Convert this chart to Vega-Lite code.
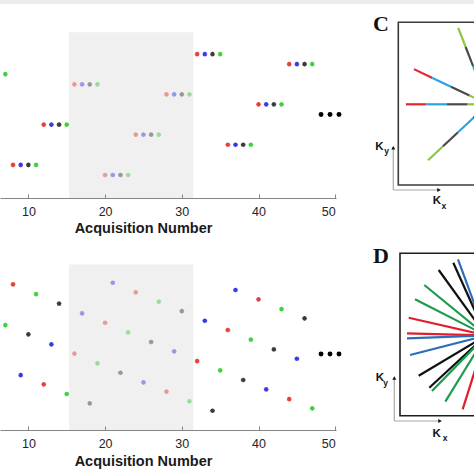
{
  "$schema": "https://vega.github.io/schema/vega-lite/v6.json",
  "padding": {"left": 0, "top": 0, "right": 0, "bottom": 0},
  "background": "white",
  "bounds": "flush",
  "columns": 2,
  "spacing": {"row": 10, "column": 10},
  "config": {"view": {"stroke": null}, "font": "Liberation Sans"},
  "resolve": {"scale": {"color": "independent", "shape": "independent"}},
  "datasets": {
    "ptsA": [
      {"n": 7, "lv": 10, "c": "green"},
      {"n": 8, "lv": 1, "c": "red"}, {"n": 9, "lv": 1, "c": "blue"}, {"n": 10, "lv": 1, "c": "black"}, {"n": 11, "lv": 1, "c": "green"},
      {"n": 12, "lv": 5, "c": "red"}, {"n": 13, "lv": 5, "c": "blue"}, {"n": 14, "lv": 5, "c": "black"}, {"n": 15, "lv": 5, "c": "green"},
      {"n": 16, "lv": 9, "c": "red"}, {"n": 17, "lv": 9, "c": "blue"}, {"n": 18, "lv": 9, "c": "black"}, {"n": 19, "lv": 9, "c": "green"},
      {"n": 20, "lv": 0, "c": "red"}, {"n": 21, "lv": 0, "c": "blue"}, {"n": 22, "lv": 0, "c": "black"}, {"n": 23, "lv": 0, "c": "green"},
      {"n": 24, "lv": 4, "c": "red"}, {"n": 25, "lv": 4, "c": "blue"}, {"n": 26, "lv": 4, "c": "black"}, {"n": 27, "lv": 4, "c": "green"},
      {"n": 28, "lv": 8, "c": "red"}, {"n": 29, "lv": 8, "c": "blue"}, {"n": 30, "lv": 8, "c": "black"}, {"n": 31, "lv": 8, "c": "green"},
      {"n": 32, "lv": 12, "c": "red"}, {"n": 33, "lv": 12, "c": "blue"}, {"n": 34, "lv": 12, "c": "black"}, {"n": 35, "lv": 12, "c": "green"},
      {"n": 36, "lv": 3, "c": "red"}, {"n": 37, "lv": 3, "c": "blue"}, {"n": 38, "lv": 3, "c": "black"}, {"n": 39, "lv": 3, "c": "green"},
      {"n": 40, "lv": 7, "c": "red"}, {"n": 41, "lv": 7, "c": "blue"}, {"n": 42, "lv": 7, "c": "black"}, {"n": 43, "lv": 7, "c": "green"},
      {"n": 44, "lv": 11, "c": "red"}, {"n": 45, "lv": 11, "c": "blue"}, {"n": 46, "lv": 11, "c": "black"}, {"n": 47, "lv": 11, "c": "green"}
    ],
    "ptsB": [
      {"n": 7, "lv": 8.13, "c": "green"},
      {"n": 8, "lv": 12.17, "c": "red"}, {"n": 9, "lv": 3.17, "c": "blue"}, {"n": 10, "lv": 7.21, "c": "black"}, {"n": 11, "lv": 11.21, "c": "green"},
      {"n": 12, "lv": 2.25, "c": "red"}, {"n": 13, "lv": 6.22, "c": "blue"}, {"n": 14, "lv": 10.25, "c": "black"}, {"n": 15, "lv": 1.29, "c": "green"},
      {"n": 16, "lv": 5.29, "c": "red"}, {"n": 17, "lv": 9.3, "c": "blue"}, {"n": 18, "lv": 0.37, "c": "black"}, {"n": 19, "lv": 4.34, "c": "green"},
      {"n": 20, "lv": 8.36, "c": "red"}, {"n": 21, "lv": 12.33, "c": "blue"}, {"n": 22, "lv": 3.4, "c": "black"}, {"n": 23, "lv": 7.41, "c": "green"},
      {"n": 24, "lv": 11.38, "c": "red"}, {"n": 25, "lv": 2.45, "c": "blue"}, {"n": 26, "lv": 6.45, "c": "black"}, {"n": 27, "lv": 10.45, "c": "green"},
      {"n": 28, "lv": 1.52, "c": "red"}, {"n": 29, "lv": 5.53, "c": "blue"}, {"n": 30, "lv": 9.52, "c": "black"}, {"n": 31, "lv": 0.57, "c": "green"},
      {"n": 32, "lv": 4.56, "c": "red"}, {"n": 33, "lv": 8.56, "c": "blue"}, {"n": 34, "lv": -0.37, "c": "black"}, {"n": 35, "lv": 3.64, "c": "green"},
      {"n": 36, "lv": 7.64, "c": "red"}, {"n": 37, "lv": 11.61, "c": "blue"}, {"n": 38, "lv": 2.68, "c": "black"}, {"n": 39, "lv": 6.68, "c": "green"},
      {"n": 40, "lv": 10.68, "c": "red"}, {"n": 41, "lv": 1.76, "c": "blue"}, {"n": 42, "lv": 5.72, "c": "black"}, {"n": 43, "lv": 9.72, "c": "green"},
      {"n": 44, "lv": 0.79, "c": "red"}, {"n": 45, "lv": 4.79, "c": "blue"}, {"n": 46, "lv": 8.8, "c": "black"}, {"n": 47, "lv": -0.13, "c": "green"}
    ],
    "dotsA": [{"n": 48.15, "lv": 6}, {"n": 49.32, "lv": 6}, {"n": 50.49, "lv": 6}],
    "dotsB": [{"n": 48.15, "lv": 5.26}, {"n": 49.32, "lv": 5.26}, {"n": 50.49, "lv": 5.26}],
    "shade": [{"n": 15.3, "n2": 31.5, "lv": -2.28, "lv2": 14.15}],
    "bandA": [{"n": 6.3, "n2": 68.0, "lv": 16.96, "lv2": 17.36}],
    "boxC": [{"x": -4.376, "x2": 4.376, "y": 4.0, "y2": -3.937}],
    "spokesC": [
      {"x": -4, "y": 0, "x2": -3, "y2": 0, "c": "red"},
      {"x": -3, "y": 0, "x2": -2, "y2": 0, "c": "blue"},
      {"x": -2, "y": 0, "x2": -1, "y2": 0, "c": "dark"},
      {"x": -1, "y": 0, "x2": 0, "y2": 0, "c": "green"},
      {"x": -3.613, "y": 1.716, "x2": -2.71, "y2": 1.287, "c": "red"},
      {"x": -2.71, "y": 1.287, "x2": -1.807, "y2": 0.858, "c": "blue"},
      {"x": -1.807, "y": 0.858, "x2": -0.903, "y2": 0.429, "c": "dark"},
      {"x": -0.903, "y": 0.429, "x2": 0, "y2": 0, "c": "green"},
      {"x": -1.453, "y": 3.727, "x2": -1.09, "y2": 2.795, "c": "green"},
      {"x": -1.09, "y": 2.795, "x2": -0.727, "y2": 1.863, "c": "dark"},
      {"x": -0.727, "y": 1.863, "x2": -0.363, "y2": 0.932, "c": "blue"},
      {"x": -0.363, "y": 0.932, "x2": 0, "y2": 0, "c": "red"},
      {"x": -2.926, "y": -2.728, "x2": -2.194, "y2": -2.046, "c": "green"},
      {"x": -2.194, "y": -2.046, "x2": -1.463, "y2": -1.364, "c": "dark"},
      {"x": -1.463, "y": -1.364, "x2": -0.731, "y2": -0.682, "c": "blue"},
      {"x": -0.731, "y": -0.682, "x2": 0, "y2": 0, "c": "red"}
    ],
    "axC": [{"x": -4.62, "y": -4.18, "x2": -4.62, "y2": -2.1}, {"x": -4.62, "y": -4.18, "x2": -2.37, "y2": -4.18}],
    "headsC": [{"x": -4.62, "y": -2.12, "s": "triangle-up"}, {"x": -2.39, "y": -4.18, "s": "triangle-right"}],
    "lblC": [{"x": -5.22, "y": 3.917, "t": "C"}],
    "kC": [{"x": -5.293, "y": -2.083, "t": "K"}, {"x": -2.488, "y": -4.717, "t": "K"}],
    "subC": [{"x": -4.951, "y": -2.278, "t": "y"}, {"x": -2.156, "y": -4.937, "t": "x"}],
    "bandC": [{"x": -6.927, "x2": -0.683, "y": 4.893, "y2": 5.088}],
    "boxD": [{"x": -4.195, "x2": 4.2, "y": 4.01, "y2": -3.912}],
    "spokesD": [
      {"x": -1.366, "y": 3.717, "x2": 0, "y2": 0, "c": "blue"},
      {"x": -1.595, "y": 3.551, "x2": 0, "y2": 0, "c": "black"},
      {"x": -2.307, "y": 3.195, "x2": 0, "y2": 0, "c": "black"},
      {"x": -3.01, "y": 2.463, "x2": 0, "y2": 0, "c": "green"},
      {"x": -3.463, "y": 1.766, "x2": 0, "y2": 0, "c": "green"},
      {"x": -3.771, "y": 0.868, "x2": 0, "y2": 0, "c": "red"},
      {"x": -3.854, "y": 0.107, "x2": 0, "y2": 0, "c": "red"},
      {"x": -3.854, "y": -0.137, "x2": 0, "y2": 0, "c": "blue"},
      {"x": -3.707, "y": -0.951, "x2": 0, "y2": 0, "c": "blue"},
      {"x": -3.283, "y": -1.961, "x2": 0, "y2": 0, "c": "black"},
      {"x": -2.766, "y": -2.546, "x2": 0, "y2": 0, "c": "black"},
      {"x": -2.634, "y": -2.707, "x2": 0, "y2": 0, "c": "green"},
      {"x": -1.985, "y": -3.229, "x2": 0, "y2": 0, "c": "green"},
      {"x": -1.137, "y": -3.6, "x2": 0, "y2": 0, "c": "red"}
    ],
    "axD": [{"x": -4.473, "y": -4.171, "x2": -4.473, "y2": -2.05}, {"x": -4.473, "y": -4.171, "x2": -2.22, "y2": -4.171}],
    "headsD": [{"x": -4.473, "y": -2.07, "s": "triangle-up"}, {"x": -2.24, "y": -4.171, "s": "triangle-right"}],
    "lblD": [{"x": -5.122, "y": 3.878, "t": "D"}],
    "kD": [{"x": -5.171, "y": -2.073, "t": "K"}, {"x": -2.405, "y": -4.805, "t": "K"}],
    "subD": [{"x": -4.902, "y": -2.317, "t": "y"}, {"x": -2.0, "y": -5.0, "t": "x"}]
  },
  "concat": [
    {
      "width": 336, "height": 198,
      "encoding": {
        "x": {"field": "n", "type": "quantitative", "scale": {"domain": [6.3, 50.1], "nice": false, "zero": false},
          "axis": {"values": [10, 20, 30, 40, 50], "grid": false, "domainColor": "#858585", "tickColor": "#858585", "tickSize": -4, "labelPadding": 11, "labelFontSize": 12.5, "labelColor": "#262626", "labelFont": "Liberation Sans", "title": "Acquisition Number", "titleFont": "Liberation Sans", "titleFontSize": 14.5, "titleFontWeight": "bold", "titleColor": "#1a1a1a", "titleX": 143, "titleY": 30, "titleBaseline": "middle", "zindex": 1}},
        "y": {"field": "lv", "type": "quantitative", "scale": {"domain": [-2.28, 17.36], "nice": false, "zero": false}, "axis": null}
      },
      "layer": [
        {"data": {"name": "bandA"}, "mark": {"type": "rect", "color": "#ececec"}, "encoding": {"x2": {"field": "n2"}, "y2": {"field": "lv2"}}},
        {"data": {"name": "ptsA"}, "mark": {"type": "point", "shape": "M-1,0H1M0,-1V1M-0.7,-0.7L0.7,0.7M-0.7,0.7L0.7,-0.7", "filled": false, "size": 22, "strokeWidth": 1.3, "opacity": 1},
          "encoding": {"color": {"field": "c", "type": "nominal", "scale": {"domain": ["red", "blue", "black", "green"], "range": ["#e8413c", "#3a3ae6", "#3c3c3c", "#3ed23e"]}, "legend": null}}},
        {"data": {"name": "dotsA"}, "mark": {"type": "circle", "color": "#000000", "size": 24, "opacity": 1}},
        {"data": {"name": "shade"}, "mark": {"type": "rect", "color": "#e4e4e4", "opacity": 0.55}, "encoding": {"x2": {"field": "n2"}, "y2": {"field": "lv2"}}}
      ]
    },
    {
      "width": 128, "height": 240,
      "encoding": {
        "x": {"field": "x", "type": "quantitative", "scale": {"domain": [-6.927, -0.683], "nice": false, "zero": false}, "axis": null},
        "y": {"field": "y", "type": "quantitative", "scale": {"domain": [-6.62, 5.088], "nice": false, "zero": false}, "axis": null}
      },
      "layer": [
        {"data": {"name": "bandC"}, "mark": {"type": "rect", "color": "#ececec", "clip": true}, "encoding": {"x2": {"field": "x2"}, "y2": {"field": "y2"}}},
        {"data": {"name": "boxC"}, "mark": {"type": "rect", "filled": false, "color": "#3c3c3c", "strokeWidth": 1.6, "clip": true}, "encoding": {"x2": {"field": "x2"}, "y2": {"field": "y2"}}},
        {"data": {"name": "spokesC"}, "mark": {"type": "rule", "strokeWidth": 2.2, "clip": true, "strokeCap": "butt"},
          "encoding": {"x2": {"field": "x2"}, "y2": {"field": "y2"}, "color": {"field": "c", "type": "nominal", "scale": {"domain": ["red", "blue", "dark", "green"], "range": ["#e3262d", "#27a5e3", "#4a4a4a", "#8dc540"]}, "legend": null}}},
        {"data": {"name": "axC"}, "mark": {"type": "rule", "color": "#a8a8a8", "strokeWidth": 1.2}, "encoding": {"x2": {"field": "x2"}, "y2": {"field": "y2"}}},
        {"data": {"name": "headsC"}, "mark": {"type": "point", "filled": true, "color": "#111111", "size": 16, "opacity": 1}, "encoding": {"shape": {"field": "s", "type": "nominal", "scale": null}}},
        {"data": {"name": "lblC"}, "mark": {"type": "text", "font": "Liberation Serif", "fontWeight": "bold", "fontSize": 22, "color": "#111111", "align": "center", "baseline": "middle"}, "encoding": {"text": {"field": "t"}}},
        {"data": {"name": "kC"}, "mark": {"type": "text", "font": "Liberation Sans", "fontWeight": "bold", "fontSize": 11.5, "color": "#111111", "align": "center", "baseline": "middle"}, "encoding": {"text": {"field": "t"}}},
        {"data": {"name": "subC"}, "mark": {"type": "text", "font": "Liberation Sans", "fontWeight": "bold", "fontSize": 8.5, "color": "#111111", "align": "center", "baseline": "middle"}, "encoding": {"text": {"field": "t"}}}
      ]
    },
    {
      "width": 336, "height": 180,
      "encoding": {
        "x": {"field": "n", "type": "quantitative", "scale": {"domain": [6.3, 50.1], "nice": false, "zero": false},
          "axis": {"values": [10, 20, 30, 40, 50], "grid": false, "domainColor": "#858585", "tickColor": "#858585", "tickSize": -4, "labelPadding": 11, "labelFontSize": 12.5, "labelColor": "#262626", "labelFont": "Liberation Sans", "title": "Acquisition Number", "titleFont": "Liberation Sans", "titleFontSize": 14.5, "titleFontWeight": "bold", "titleColor": "#1a1a1a", "titleX": 143, "titleY": 31, "titleBaseline": "middle", "zindex": 1}},
        "y": {"field": "lv", "type": "quantitative", "scale": {"domain": [-2.28, 15.58], "nice": false, "zero": false}, "axis": null}
      },
      "layer": [
        {"data": {"name": "ptsB"}, "mark": {"type": "point", "shape": "M-1,0H1M0,-1V1M-0.7,-0.7L0.7,0.7M-0.7,0.7L0.7,-0.7", "filled": false, "size": 22, "strokeWidth": 1.3, "opacity": 1},
          "encoding": {"color": {"field": "c", "type": "nominal", "scale": {"domain": ["red", "blue", "black", "green"], "range": ["#e8413c", "#3a3ae6", "#3c3c3c", "#3ed23e"]}, "legend": null}}},
        {"data": {"name": "dotsB"}, "mark": {"type": "circle", "color": "#000000", "size": 24, "opacity": 1}},
        {"data": {"name": "shade"}, "mark": {"type": "rect", "color": "#e4e4e4", "opacity": 0.55}, "encoding": {"x2": {"field": "n2"}, "y2": {"field": "lv2"}}}
      ]
    },
    {
      "width": 128, "height": 224,
      "encoding": {
        "x": {"field": "x", "type": "quantitative", "scale": {"domain": [-6.829, -0.585], "nice": false, "zero": false}, "axis": null},
        "y": {"field": "y", "type": "quantitative", "scale": {"domain": [-6.756, 4.171], "nice": false, "zero": false}, "axis": null}
      },
      "layer": [
        {"data": {"name": "boxD"}, "mark": {"type": "rect", "filled": false, "color": "#1e1e1e", "strokeWidth": 1.6, "clip": true}, "encoding": {"x2": {"field": "x2"}, "y2": {"field": "y2"}}},
        {"data": {"name": "spokesD"}, "mark": {"type": "rule", "strokeWidth": 2.2, "clip": true, "strokeCap": "butt"},
          "encoding": {"x2": {"field": "x2"}, "y2": {"field": "y2"}, "color": {"field": "c", "type": "nominal", "scale": {"domain": ["red", "blue", "black", "green"], "range": ["#e01f2b", "#2f6eb6", "#111111", "#1b9c4c"]}, "legend": null}}},
        {"data": {"name": "axD"}, "mark": {"type": "rule", "color": "#a8a8a8", "strokeWidth": 1.2}, "encoding": {"x2": {"field": "x2"}, "y2": {"field": "y2"}}},
        {"data": {"name": "headsD"}, "mark": {"type": "point", "filled": true, "color": "#111111", "size": 16, "opacity": 1}, "encoding": {"shape": {"field": "s", "type": "nominal", "scale": null}}},
        {"data": {"name": "lblD"}, "mark": {"type": "text", "font": "Liberation Serif", "fontWeight": "bold", "fontSize": 22, "color": "#111111", "align": "center", "baseline": "middle"}, "encoding": {"text": {"field": "t"}}},
        {"data": {"name": "kD"}, "mark": {"type": "text", "font": "Liberation Sans", "fontWeight": "bold", "fontSize": 11.5, "color": "#111111", "align": "center", "baseline": "middle"}, "encoding": {"text": {"field": "t"}}},
        {"data": {"name": "subD"}, "mark": {"type": "text", "font": "Liberation Sans", "fontWeight": "bold", "fontSize": 8.5, "color": "#111111", "align": "center", "baseline": "middle"}, "encoding": {"text": {"field": "t"}}}
      ]
    }
  ]
}
